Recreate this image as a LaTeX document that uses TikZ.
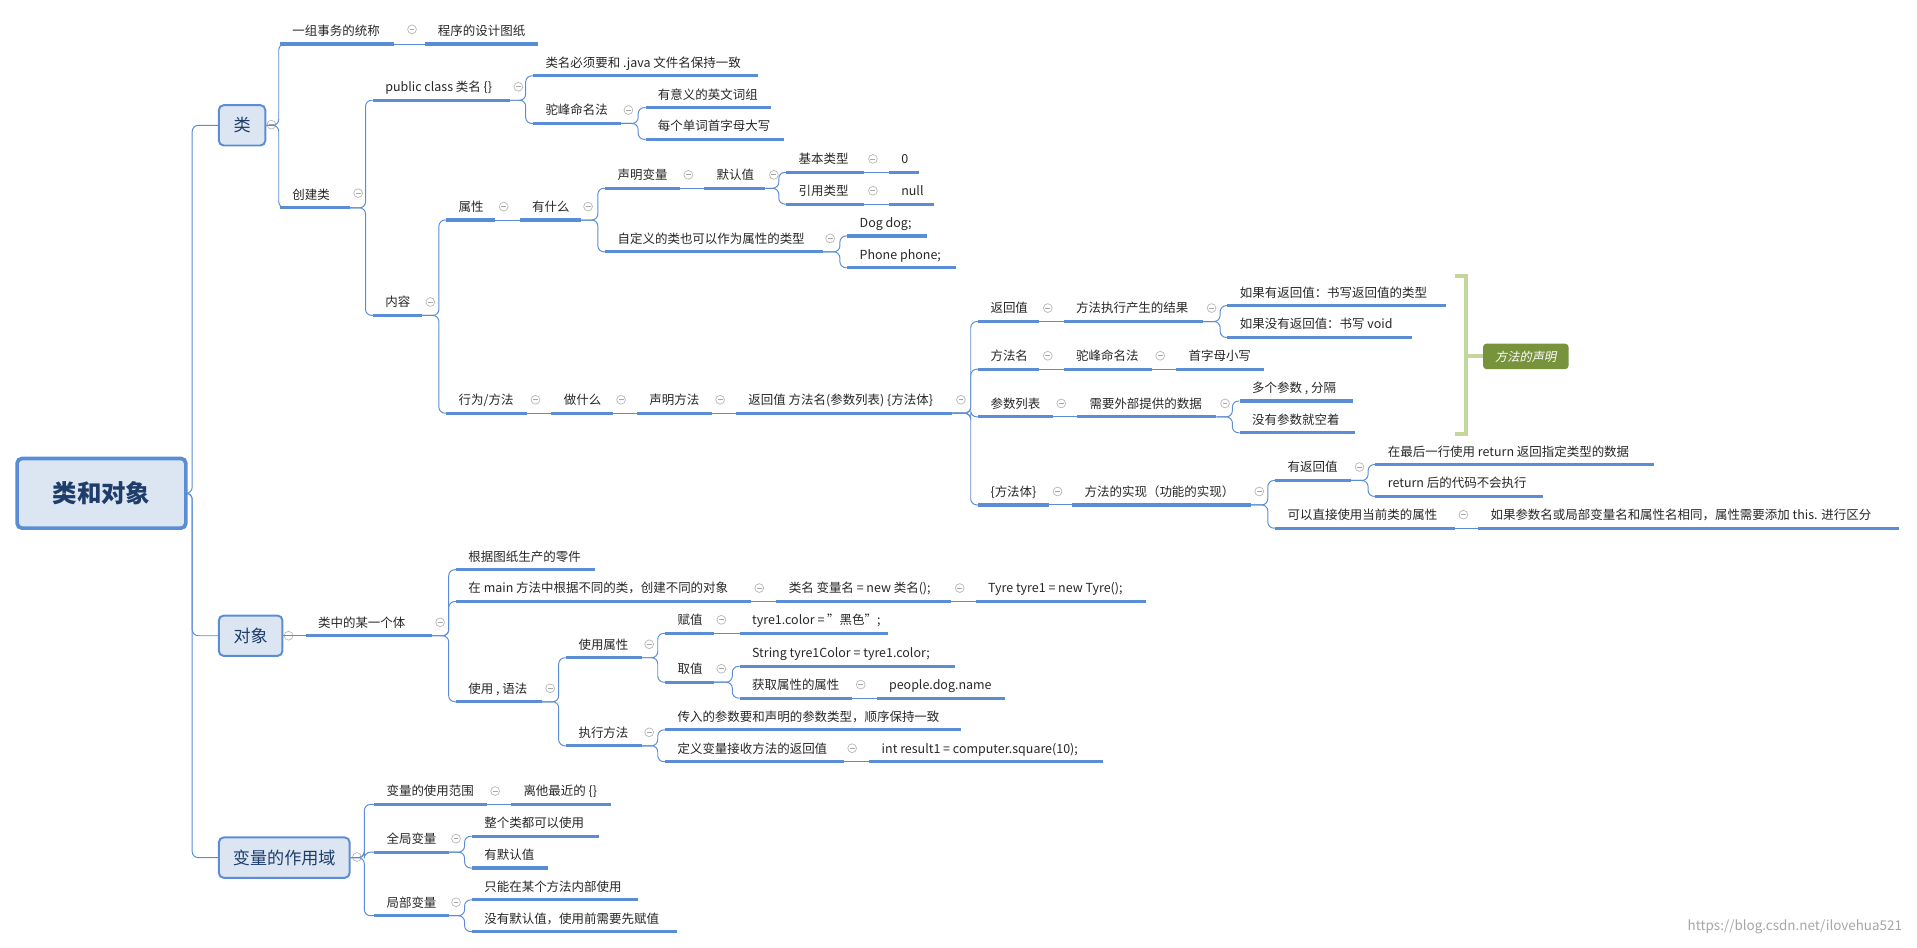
\documentclass[tikz,border=0pt]{standalone}
\usepackage{fontspec}
\setmainfont{Noto Sans CJK SC}
\newfontfamily\slcjk[FakeSlant=0.2]{Noto Sans CJK SC}
\usetikzlibrary{calc}
\definecolor{ub}{HTML}{5B8DD6}
\definecolor{bf}{HTML}{DCE6F2}
\definecolor{bt}{HTML}{1F3D6B}
\definecolor{brg}{HTML}{C3D69B}
\definecolor{olv}{HTML}{77933C}
\tikzset{
 tx/.style={inner sep=0pt,font=\fontsize{10.2}{12}\selectfont,text=black!85},
 ul/.style={ub,line width=2.6pt},
 sl/.style={ub,line width=0.8pt},
 cl/.style={ub,line width=0.8pt,rounded corners=5pt},
 lbox/.style={draw=ub,line width=1.6pt,fill=bf,rounded corners=4pt,minimum height=33pt,text=bt,font=\fontsize{14}{16}\selectfont,inner sep=0pt},
}
\newcommand\tp[5]{\node[tx,anchor=base west] (#1) at (#2+10,#4-7) {#5};
 \draw[ul] (#2,#4)--(#3,#4); \coordinate (#1-l) at (#2,#4); \coordinate (#1-r) at (#3,#4);}
\newcommand\cc[2]{\draw[gray!55,line width=0.6pt] (#1,#2) circle (3.6pt); \draw[gray!70,line width=0.6pt] (#1-2,#2)--(#1+2,#2);}
\newcommand\cn[3][6]{\draw[cl] (#2) -| ($(#3)+(-#1,0)$) -- (#3);}
\newcommand\sn[2]{\draw[sl] (#1) -- (#2);}
\begin{document}
\begin{tikzpicture}[x=1pt,y=-1pt]
\useasboundingbox (0,0) rectangle (1568,775);
% root and level-1
\node[lbox,line width=3pt,minimum width=138pt,minimum height=57pt,font=\fontsize{20}{22}\selectfont\bfseries] (root) at (83,403.5) {类和对象};
\node[lbox,minimum width=38pt] (lei) at (198,102.5) {类};
\node[lbox,minimum width=52pt] (dx) at (205,520) {对象};
\node[lbox,minimum width=107pt] (bl) at (232.5,701.5) {变量的作用域};
\cn[21]{root.east}{lei.west}\cn[21]{root.east}{dx.west}\cn[21]{root.east}{bl.west}
\cc{222}{102}\cc{236}{520}\cc{292}{701}
% ---- 类
\tp{A1}{229}{322}{36}{一组事务的统称}\cc{337}{24}
\tp{A1a}{348}{440}{36}{程序的设计图纸}\sn{A1-r}{A1a-l}
\tp{A2}{229}{286}{170}{创建类}\cc{293}{158}
\cn[1]{lei.east}{A1-l}\cn[1]{lei.east}{A2-l}
\tp{B1}{305}{417}{82}{public class 类名 \{\}}\cc{424}{71}
\tp{B2}{305}{345}{258}{内容}\cc{352}{247}
\cn{A2-r}{B1-l}\cn{A2-r}{B2-l}
\tp{C1}{436}{620}{62}{类名必须要和 .java 文件名保持一致}
\tp{C2}{436}{508}{101}{驼峰命名法}\cc{514}{90}
\cn{B1-r}{C1-l}\cn{B1-r}{C2-l}
\tp{D1}{528}{631}{88}{有意义的英文词组}
\tp{D2}{528}{641}{114}{每个单词首字母大写}
\cn{C2-r}{D1-l}\cn{C2-r}{D2-l}
\tp{C3}{365}{405}{180}{属性}\cc{412}{169}
\tp{C4}{365}{431}{338}{行为/方法}\cc{438}{327}
\cn{B2-r}{C3-l}\cn{B2-r}{C4-l}
\tp{C3a}{425}{475}{180}{有什么}\cc{481}{169}\sn{C3-r}{C3a-l}
\tp{D3}{495}{556}{154}{声明变量}\cc{563}{143}
\tp{D4}{495}{673}{206}{自定义的类也可以作为属性的类型}\cc{679}{195}
\cn{C3a-r}{D3-l}\cn{C3a-r}{D4-l}
\tp{D3a}{576}{626}{154}{默认值}\cc{633}{143}\sn{D3-r}{D3a-l}
\tp{E1}{643}{707}{141}{基本类型}\cc{714}{130}
\tp{E2}{643}{707}{167}{引用类型}\cc{714}{156}
\cn{D3a-r}{E1-l}\cn{D3a-r}{E2-l}
\tp{E1a}{727}{752}{141}{0}\sn{E1-r}{E1a-l}
\tp{E2a}{727}{764}{167}{null}\sn{E2-r}{E2a-l}
\tp{E3}{693}{758}{193}{Dog dog;}
\tp{E4}{693}{782}{219}{Phone phone;}
\cn{D4-r}{E3-l}\cn{D4-r}{E4-l}
\tp{C4a}{451}{501}{338}{做什么}\cc{508}{327}\sn{C4-r}{C4a-l}
\tp{C4b}{521}{582}{338}{声明方法}\cc{589}{327}\sn{C4a-r}{C4b-l}
\tp{C4c}{602}{779}{338}{返回值 方法名(参数列表) \{方法体\}}\cc{786}{327}\sn{C4b-r}{C4c-l}
\tp{F1}{800}{850}{263}{返回值}\cc{857}{252}
\tp{F2}{800}{850}{302}{方法名}\cc{857}{291}
\tp{F3}{800}{861}{341}{参数列表}\cc{868}{330}
\tp{F4}{800}{858}{413}{\{方法体\}}\cc{865}{402}
\cn{C4c-r}{F1-l}\cn{C4c-r}{F2-l}\cn{C4c-r}{F3-l}\cn{C4c-r}{F4-l}
\tp{F1a}{870}{984}{263}{方法执行产生的结果}\cc{991}{252}\sn{F1-r}{F1a-l}
\tp{G1}{1004}{1183}{250}{如果有返回值：书写返回值的类型}
\tp{G2}{1004}{1155}{276}{如果没有返回值：书写 void}
\cn{F1a-r}{G1-l}\cn{F1a-r}{G2-l}
\tp{F2a}{870}{942}{302}{驼峰命名法}\cc{949}{291}\sn{F2-r}{F2a-l}
\tp{F2b}{962}{1034}{302}{首字母小写}\sn{F2a-r}{F2b-l}
\tp{F3a}{881}{995}{341}{需要外部提供的数据}\cc{1002}{330}\sn{F3-r}{F3a-l}
\tp{G3}{1014}{1107}{328}{多个参数 , 分隔}
\tp{G4}{1014}{1108}{354}{没有参数就空着}
\cn{F3a-r}{G3-l}\cn{F3a-r}{G4-l}
\tp{F4a}{877}{1023}{413}{方法的实现（功能的实现）}\cc{1030}{402}\sn{F4-r}{F4a-l}
\tp{G5}{1043}{1105}{393}{有返回值}\cc{1112}{382}
\tp{G6}{1043}{1190}{432}{可以直接使用当前类的属性}\cc{1197}{421}
\cn{F4a-r}{G5-l}\cn{F4a-r}{G6-l}
\tp{H1}{1125}{1353}{380}{在最后一行使用 return 返回指定类型的数据}
\tp{H2}{1125}{1262}{406}{return 后的代码不会执行}
\cn{G5-r}{H1-l}\cn{G5-r}{H2-l}
\tp{G6a}{1209}{1553}{432}{如果参数名或局部变量名和属性名相同，属性需要添加 this. 进行区分}\sn{G6-r}{G6a-l}
% bracket
\draw[brg,line width=3pt] (1190,226)--(1199,226)--(1199,355)--(1190,355);
\draw[brg,line width=3pt] (1199,291)--(1213,291);
\node[fill=olv,rounded corners=3pt,minimum width=70pt,minimum height=21pt,inner sep=0pt,text=white,font=\fontsize{10}{12}\selectfont\slcjk] (sm) at (1248,291.5) {方法的声明};
% ---- 对象
\tp{O1}{250}{353}{520}{类中的某一个体}\cc{360}{509}\sn{dx.east}{O1-l}
\tp{P1}{373}{487}{466}{根据图纸生产的零件}
\tp{P2}{373}{614}{492}{在 main 方法中根据不同的类，创建不同的对象}\cc{621}{481}
\tp{P3}{373}{443}{574}{使用 , 语法}\cc{450}{563}
\cn{O1-r}{P1-l}\cn{O1-r}{P2-l}\cn{O1-r}{P3-l}
\tp{P2a}{635}{778}{492}{类名 变量名 = new 类名();}\cc{785}{481}\sn{P2-r}{P2a-l}
\tp{P2b}{798}{937}{492}{Tyre tyre1 = new Tyre();}\sn{P2a-r}{P2b-l}
\tp{Q1}{463}{525}{538}{使用属性}\cc{531}{527}
\tp{Q2}{463}{525}{610}{执行方法}\cc{531}{599}
\cn{P3-r}{Q1-l}\cn{P3-r}{Q2-l}
\tp{R1}{544}{584}{518}{赋值}\cc{590}{507}
\tp{R2}{544}{584}{558}{取值}\cc{590}{547}
\cn{Q1-r}{R1-l}\cn{Q1-r}{R2-l}
\tp{R1a}{605}{726}{518}{tyre1.color = "黑色";}\sn{R1-r}{R1a-l}
\tp{S1}{605}{781}{545}{String tyre1Color = tyre1.color;}
\tp{S2}{605}{697}{571}{获取属性的属性}\cc{704}{560}
\cn{R2-r}{S1-l}\cn{R2-r}{S2-l}
\tp{S2a}{717}{822}{571}{people.dog.name}\sn{S2-r}{S2a-l}
\tp{R3}{544}{786}{597}{传入的参数要和声明的参数类型，顺序保持一致}
\tp{R4}{544}{690}{623}{定义变量接收方法的返回值}\cc{697}{612}
\cn{Q2-r}{R3-l}\cn{Q2-r}{R4-l}
\tp{R4a}{711}{902}{623}{int result1 = computer.square(10);}\sn{R4-r}{R4a-l}
% ---- 变量的作用域
\tp{V1}{306}{398}{658}{变量的使用范围}\cc{405}{647}
\tp{V2}{306}{367}{697}{全局变量}\cc{373}{686}
\tp{V3}{306}{367}{749}{局部变量}\cc{373}{738}
\cn[8]{bl.east}{V1-l}\cn[8]{bl.east}{V2-l}\cn[8]{bl.east}{V3-l}
\tp{V1a}{418}{500}{658}{离他最近的 \{\}}\sn{V1-r}{V1a-l}
\tp{W1}{386}{490}{684}{整个类都可以使用}
\tp{W2}{386}{448}{710}{有默认值}
\cn{V2-r}{W1-l}\cn{V2-r}{W2-l}
\tp{W3}{386}{522}{736}{只能在某个方法内部使用}
\tp{W4}{386}{554}{762}{没有默认值，使用前需要先赋值}
\cn{V3-r}{W3-l}\cn{V3-r}{W4-l}
\node[inner sep=0pt,anchor=east,text=gray!70,font=\fontsize{11}{12}\selectfont] (wm) at (1556,758) {https://blog.csdn.net/ilovehua521};
\end{tikzpicture}
\end{document}
